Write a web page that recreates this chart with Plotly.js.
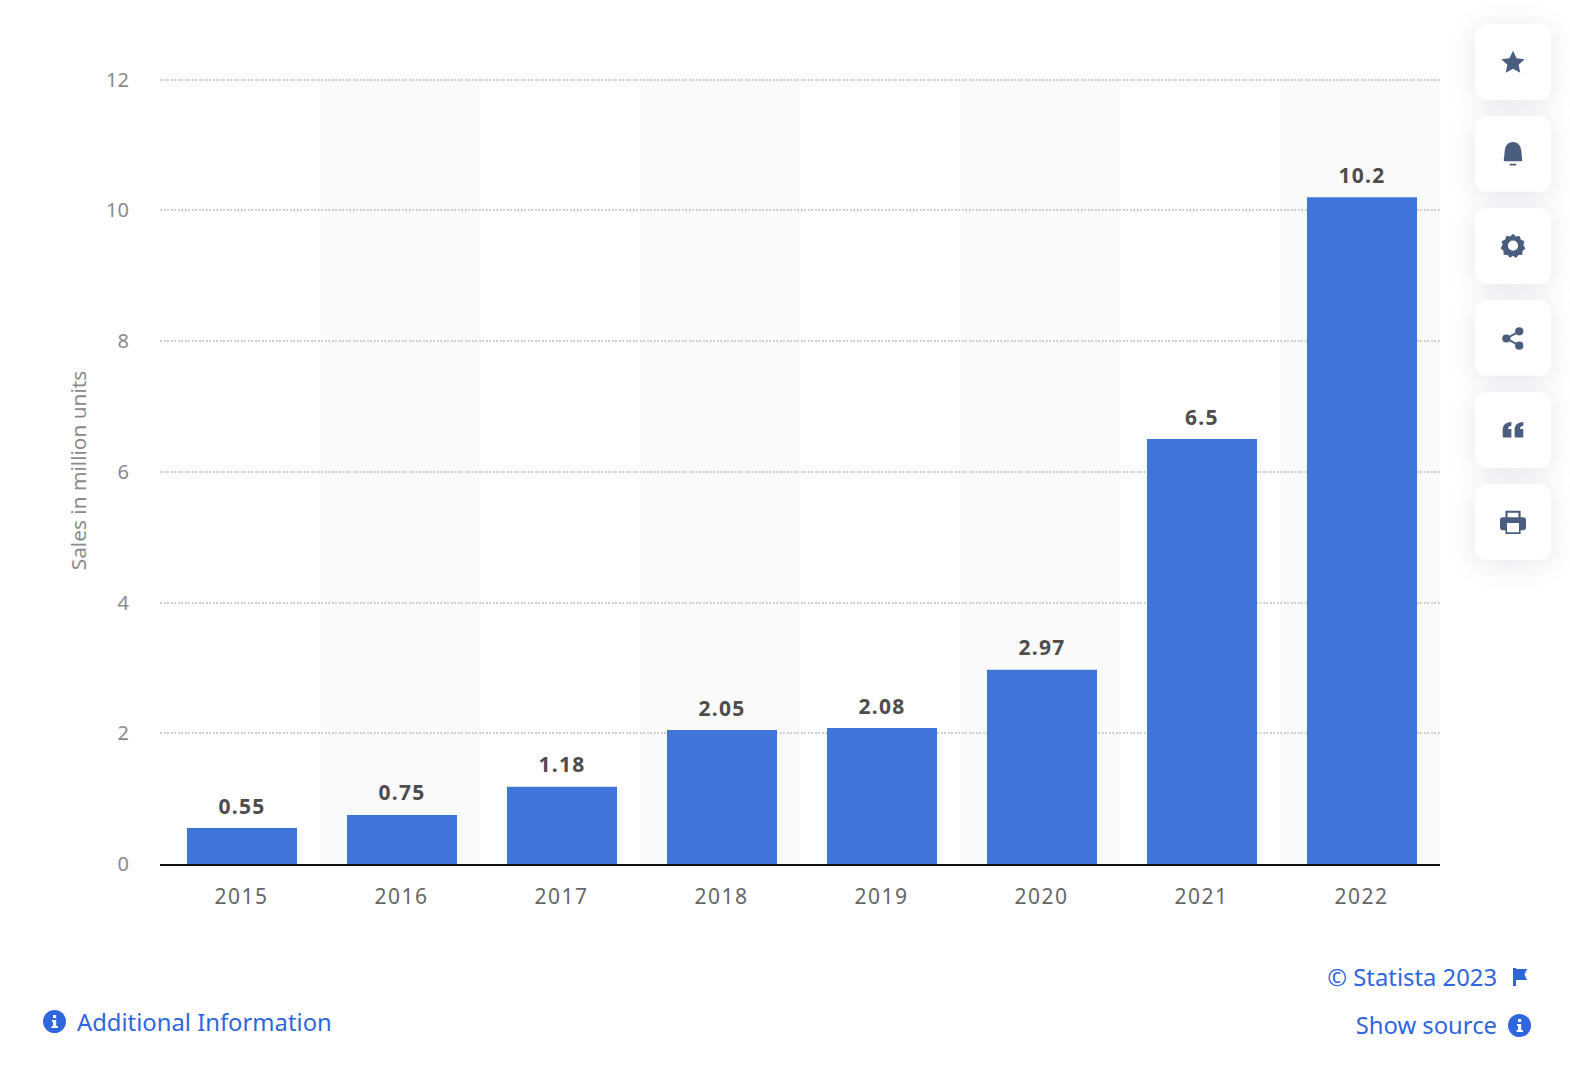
<!DOCTYPE html>
<html>
<head>
<meta charset="utf-8">
<title>Sales in million units</title>
<script src="https://cdn.plot.ly/plotly-3.0.1.min.js"></script>
<style>
  html, body { margin: 0; padding: 0; background: #fff; }
  body { width: 1570px; height: 1082px; position: relative; overflow: hidden; font-family: "Noto Sans", sans-serif; }
  #chart { position: absolute; left: 0; top: 0; width: 1570px; height: 1082px; }
  #chart .xtick text { letter-spacing: 1.5px; translate: 1.5px 0; }
  #chart .annotation-text { letter-spacing: 1.3px; }

  .tool {
    position: absolute; left: 1475px; width: 76px; height: 76px;
    background: #fff; border-radius: 12px;
    box-shadow: 0 4px 28px rgba(70, 90, 130, 0.14);
    display: flex; align-items: center; justify-content: center;
  }
  .tool svg { width: 26px; height: 26px; fill: #4a5d7e; }

  .link { position: absolute; color: #2f66dd; font-size: 23.800px; line-height: 32px; white-space: nowrap; }
  .badge { position: absolute; width: 23px; height: 23px; }
</style>
</head>
<body>
<div id="chart"></div>

<!-- toolbar on the right -->
<div class="tool" style="top:24px"><svg viewBox="0 0 24 24"><path d="M12 1.500l3.300 7 7.400.9-5.500 5.100 1.500 7.500-6.700-3.800-6.700 3.800 1.500-7.500L1.300 9.400l7.400-.9z"/></svg></div>
<div class="tool" style="top:116px"><svg viewBox="0 0 24 24"><path d="M12 1c5 0 7.200 3.800 7.600 8l.9 8.200c.1.900-.5 1.600-1.400 1.600H4.900c-.9 0-1.500-.7-1.400-1.600L4.400 9C4.800 4.800 7 1 12 1zM9 21h6v1.500H9z"/></svg></div>
<div class="tool" style="top:208px"><svg viewBox="0 0 24 24"><path fill-rule="evenodd" d="M12 .8l2.600 2.500 3.500-.6 1.100 3.400 3.200 1.600-.8 3.500 1.900 3-2.700 2.300-.2 3.600-3.500.2-2.300 2.700L12 21l-2.800 1.900-2.300-2.700-3.500-.2-.2-3.600-2.700-2.300 1.900-3-.8-3.500 3.200-1.600 1.100-3.400 3.500.6zM12 7a4.700 4.700 0 1 0 0 9.400A4.700 4.700 0 0 0 12 7z"/></svg></div>
<div class="tool" style="top:300px"><svg viewBox="0 0 24 24" style="width:23px;height:23px"><circle cx="4.500" cy="12" r="4.300"/><circle cx="18" cy="4.500" r="4.300"/><circle cx="18" cy="19.500" r="4.300"/><path d="M4.500 12L18 4.500M4.500 12L18 19.500" stroke="#4a5d7e" stroke-width="2" fill="none"/></svg></div>
<div class="tool" style="top:392px"><svg viewBox="0 0 24 24"><path d="M10.500 4.500v3.500c-2 .3-3 1.300-3 3h3v8H4c-1 0-1.500-.5-1.500-1.500v-6c0-4 2.500-6.500 8-7zM21.500 4.500v3.500c-2 .3-3 1.300-3 3h3v8H15c-1 0-1.500-.5-1.500-1.500v-6c0-4 2.500-6.500 8-7z"/></svg></div>
<div class="tool" style="top:484px"><svg viewBox="0 0 24 24"><path fill-rule="evenodd" d="M5 1.500h14v6h2.500C23 7.500 24 8.500 24 10v7c0 1.500-1 2.500-2.500 2.500H19v3.500H5v-3.500H2.500C1 19.500 0 18.500 0 17v-7c0-1.500 1-2.500 2.500-2.500H5zM7 3.500v4h10v-4zM6.500 13v8.500h11V13z"/></svg></div>

<!-- footer links -->
<svg class="badge" style="left:43px;top:1010px" viewBox="0 0 23 23"><circle cx="11.500" cy="11.500" r="11.500" fill="#2f66dd"/><path d="M10 5h3.200v3H10zM9 10h4.200v6H15v2H8.500v-2H10v-4H9z" fill="#fff"/></svg>
<div class="link" style="left:77px;top:1006px">Additional Information</div>
<div class="link" style="right:73px;top:961px">© Statista 2023</div>
<svg class="badge" style="left:1513px;top:968px;width:14px;height:18px" viewBox="0 0 14 18"><path d="M0 0h3v18H0zM3 1h11l-2.500 5.500L14 12H3z" fill="#2f66dd"/></svg>
<div class="link" style="right:73px;top:1009px">Show source</div>
<svg class="badge" style="left:1508px;top:1014px" viewBox="0 0 23 23"><circle cx="11.500" cy="11.500" r="11.500" fill="#2f66dd"/><path d="M10 5h3.200v3H10zM9 10h4.200v6H15v2H8.500v-2H10v-4H9z" fill="#fff"/></svg>

<script>
const years  = ['2015', '2016', '2017', '2018', '2019', '2020', '2021', '2022'];
const sales  = [0.55, 0.75, 1.18, 2.05, 2.08, 2.97, 6.5, 10.2];
const yTicks = [0, 2, 4, 6, 8, 10, 12];

const COLORS = {
  bar:      '#3f74d9',
  band:     '#fafafa',
  grid:     '#d0d0d0',
  axis:     '#111111',
  tickY:    '#8a8a8a',
  tickX:    '#666666',
  value:    '#4d4d4d',
};
const FONT = '"Noto Sans", sans-serif';

// Every second year sits on a light grey band, from the axis up past the top tick
const bands = years
  .map((y, i) => i)
  .filter(i => i % 2 === 1)
  .map(i => ({
    type: 'rect', layer: 'below',
    xref: 'x', yref: 'paper',
    x0: i - 0.5, x1: i + 0.5, y0: 0, y1: 1,
    fillcolor: COLORS.band,
    line: { width: 0 },
  }));

// Value labels above the bars (category axis: annotations take the index, not the name)
const valueLabels = years.map((y, i) => ({
  x: i, y: sales[i],
  xref: 'x', yref: 'y',
  text: String(sales[i]),
  showarrow: false,
  yanchor: 'bottom',
  yshift: 6.5,
  xshift: 1.5,
  font: { family: FONT, size: 21, color: COLORS.value, weight: 700 },
}));

const trace = {
  type: 'bar',
  x: years,
  y: sales,
  width: 0.6875,
  offset: -0.33125,   // bars sit 2px right of the band centre in the original
  marker: { color: COLORS.bar, line: { width: 0 } },
  hoverinfo: 'x+y',
};

const layout = {
  width: 1570,
  height: 1082,
  margin: { l: 160, r: 130, t: 77.2, b: 218, pad: 0 },
  paper_bgcolor: 'rgba(0,0,0,0)',
  plot_bgcolor: 'rgba(0,0,0,0)',
  showlegend: false,
  font: { family: FONT },
  xaxis: {
    type: 'category',
    range: [-0.5, 7.5],
    showgrid: false,
    showline: true,
    linecolor: COLORS.axis,
    linewidth: 2,
    ticks: '',
    ticklabelstandoff: 13,
    tickfont: { family: FONT, size: 21, color: COLORS.tickX },
    fixedrange: true,
  },
  yaxis: {
    // a little headroom above 12, plotly drops a gridline sitting on the plot edge when there are bars
    range: [0, 12.04],
    tickvals: yTicks,
    ticktext: yTicks.map(String),
    ticks: '',
    ticklabelstandoff: 30,
    showline: false,
    zeroline: false,
    gridcolor: COLORS.grid,
    griddash: '2px,1.5px',
    gridwidth: 2,
    tickfont: { family: FONT, size: 20, color: COLORS.tickY },
    title: {
      text: 'Sales in million units',
      standoff: 13.5,
      font: { family: FONT, size: 20.800, color: COLORS.tickY },
    },
    fixedrange: true,
  },
  shapes: bands,
  annotations: valueLabels,
};

Plotly.newPlot('chart', [trace], layout, { displayModeBar: false, responsive: false });
</script>
</body>
</html>
